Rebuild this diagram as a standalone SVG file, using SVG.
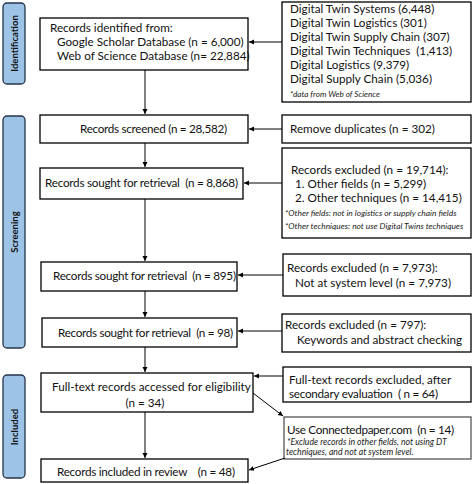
<svg xmlns="http://www.w3.org/2000/svg" width="474" height="484" viewBox="0 0 474 484" xml:space="preserve">
<defs>
<marker id="ah" markerWidth="6" markerHeight="6" refX="5" refY="3" orient="auto" markerUnits="userSpaceOnUse">
<path d="M0,0.5 L5,3 L0,5.5 z" fill="#000"/>
</marker>
<style>
.box{fill:#fff;stroke:#000;stroke-width:1.3}
.gbox{fill:#fff;stroke:#555;stroke-width:1.3}
.lab{fill:#9dc3e6;stroke:#26354a;stroke-width:1.3}
.t{font-family:Lato,"Liberation Sans",sans-serif;font-size:11.7px;fill:#111;white-space:pre}
.c{text-anchor:middle}
.n{font-family:Lato,"Liberation Sans",sans-serif;font-size:8.2px;font-style:italic;fill:#222}
.m{font-family:Lato,"Liberation Sans",sans-serif;font-size:8.4px;font-style:italic;fill:#222}
.p{font-family:Lato,"Liberation Sans",sans-serif;font-size:8.7px;font-style:italic;fill:#222}
.v{font-family:Lato,"Liberation Sans",sans-serif;font-size:9.5px;font-weight:bold;fill:#111;text-anchor:middle}
.ln{stroke:#000;stroke-width:1;fill:none}
</style>
</defs>
<rect width="474" height="484" fill="#fff"/>
<g id="phase-identification"><rect class="lab" x="3" y="3" width="22" height="81" rx="4"/><text class="v" transform="translate(17.5,43.5) rotate(-90)">Identification</text></g>
<g id="phase-screening"><rect class="lab" x="3" y="116" width="22" height="232" rx="4"/><text class="v" transform="translate(17.5,232) rotate(-90)">Screening</text></g>
<g id="phase-included"><rect class="lab" x="3" y="375" width="22" height="103" rx="4"/><text class="v" transform="translate(17.5,427) rotate(-90)">Included</text></g>

<g id="identified"><rect class="box" x="40" y="18" width="208" height="52"/>
<text class="t" x="50" y="32">Records identified from:</text>
<text class="t" x="57" y="46">Google Scholar Database (n = 6,000)</text>
<text class="t" x="57" y="60">Web of Science Database (n= 22,884)</text></g>

<g id="keywords"><rect class="box" x="282" y="2" width="189" height="100"/>
<text class="t" x="290" y="13">Digital Twin Systems (6,448)</text>
<text class="t" x="290" y="27">Digital Twin Logistics (301)</text>
<text class="t" x="290" y="41">Digital Twin Supply Chain (307)</text>
<text class="t" x="290" y="55">Digital Twin Techniques  (1,413)</text>
<text class="t" x="290" y="69">Digital Logistics (9,379)</text>
<text class="t" x="290" y="83">Digital Supply Chain (5,036)</text>
<text class="n" x="290" y="97">*data from Web of Science</text></g>

<g id="screened"><rect class="box" x="40" y="115" width="208" height="28"/>
<text class="t" x="80" y="133" textLength="147" lengthAdjust="spacing">Records screened (n = 28,582)</text></g>

<g id="duplicates"><rect class="box" x="282" y="115" width="189" height="28"/>
<text class="t" x="290" y="133">Remove duplicates (n = 302)</text></g>

<g id="sought1"><rect class="box" x="40" y="168" width="203" height="31"/>
<text class="t" x="45" y="187" textLength="193" lengthAdjust="spacing">Records sought for retrieval  (n = 8,868)</text></g>

<g id="excluded1"><rect class="box" x="282" y="148" width="189" height="90"/>
<text class="t" x="291" y="174">Records excluded (n = 19,714):</text>
<text class="t" x="292" y="188"> 1. Other fields (n = 5,299)</text>
<text class="t" x="292" y="202"> 2. Other techniques (n = 14,415)</text>
<text class="m" x="285" y="216">*Other fields: not in logistics or supply chain fields</text>
<text class="m" x="285" y="229">*Other techniques: not use Digital Twins techniques</text></g>

<g id="sought2"><rect class="box" x="41" y="262" width="196" height="29"/>
<text class="t" x="53" y="280" textLength="183" lengthAdjust="spacing">Records sought for retrieval  (n = 895)</text></g>

<g id="excluded2"><rect class="box" x="283" y="254" width="188" height="42"/>
<text class="t" x="287" y="272">Records excluded (n = 7,973):</text>
<text class="t" x="295" y="287">Not at system level (n = 7,973)</text></g>

<g id="sought3"><rect class="box" x="42" y="318" width="195" height="29"/>
<text class="t" x="58" y="337" textLength="175" lengthAdjust="spacing">Records sought for retrieval  (n = 98)</text></g>

<g id="excluded3"><rect class="box" x="282" y="314" width="189" height="38"/>
<text class="t" x="285" y="329">Records excluded (n = 797):</text>
<text class="t" x="297" y="344">Keywords and abstract checking</text></g>

<g id="fulltext"><rect class="box" x="41" y="373" width="212" height="39"/>
<text class="t" x="52" y="391">Full-text records accessed for eligibility</text>
<text class="t c" x="145" y="407">(n = 34)</text></g>

<g id="excluded4"><rect class="box" x="283" y="367" width="188" height="35"/>
<text class="t" x="289" y="384">Full-text records excluded, after</text>
<text class="t" x="289" y="398" textLength="149" lengthAdjust="spacing">secondary evaluation  ( n = 64)</text></g>

<g id="connectedpaper"><rect class="gbox" x="284" y="417" width="187" height="42"/>
<text class="t" x="287" y="434" textLength="167" lengthAdjust="spacing">Use Connectedpaper.com  (n = 14)</text>
<text class="p" x="287" y="445">*Exclude records in other fields, not using DT</text>
<text class="p" x="286" y="455">techniques, and not at system level.</text></g>

<g id="included"><rect class="box" x="41" y="459" width="207" height="23"/>
<text class="t" x="57" y="476" textLength="178" lengthAdjust="spacing">Records included in review    (n = 48)</text></g>

<g id="connectors">
<line class="ln" x1="145" y1="70" x2="145" y2="114" marker-end="url(#ah)"/>
<line class="ln" x1="145" y1="143" x2="145" y2="167" marker-end="url(#ah)"/>
<line class="ln" x1="145" y1="199" x2="145" y2="261" marker-end="url(#ah)"/>
<line class="ln" x1="145" y1="291" x2="145" y2="317" marker-end="url(#ah)"/>
<line class="ln" x1="145" y1="347" x2="145" y2="372" marker-end="url(#ah)"/>
<line class="ln" x1="145" y1="412" x2="145" y2="458" marker-end="url(#ah)"/>
<line class="ln" x1="282" y1="42" x2="249" y2="42" marker-end="url(#ah)"/>
<line class="ln" x1="282" y1="129" x2="249" y2="129" marker-end="url(#ah)"/>
<line class="ln" x1="282" y1="183" x2="244" y2="183" marker-end="url(#ah)"/>
<line class="ln" x1="283" y1="275" x2="238" y2="275" marker-end="url(#ah)"/>
<line class="ln" x1="282" y1="331" x2="238" y2="331" marker-end="url(#ah)"/>
<line class="ln" x1="283" y1="376" x2="254" y2="376" marker-end="url(#ah)"/>
<line class="ln" x1="253" y1="393" x2="283" y2="416" marker-end="url(#ah)"/>
<line class="ln" x1="285" y1="458" x2="249" y2="470" marker-end="url(#ah)"/>
</g>
</svg>
